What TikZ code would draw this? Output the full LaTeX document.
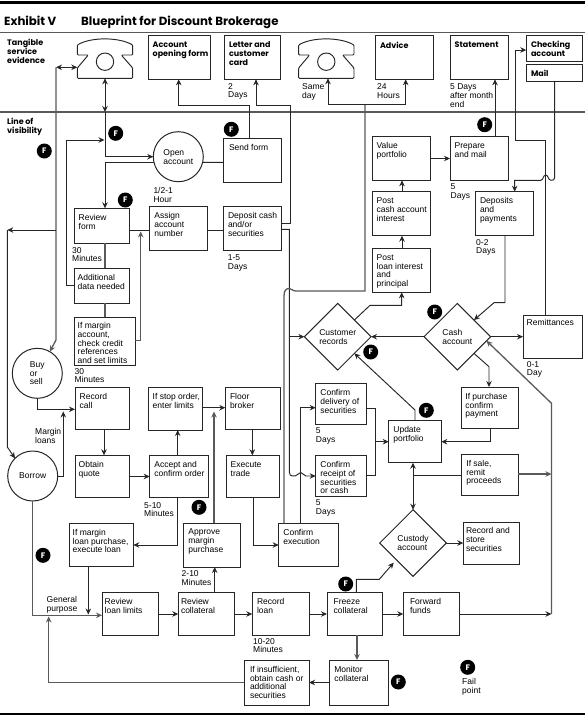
\documentclass[tikz,border=0pt]{standalone}
\usepackage{fontspec}
\setmainfont{Liberation Sans}
\newfontfamily\headfont{Poppins}
\usetikzlibrary{arrows.meta,shapes.geometric}

\begin{document}
\begin{tikzpicture}[x=1pt,y=-1pt,
    bodytext/.style={font=\fontsize{8.5}{8.75}\selectfont,inner sep=0pt,align=left},
    headtext/.style={font=\headfont\bfseries\fontsize{8}{8.9}\selectfont,inner sep=0pt,align=left},
    titletext/.style={font=\headfont\bfseries\fontsize{11.8}{13}\selectfont,inner sep=0pt,anchor=base west},
    stepbox/.style={draw=black!85,line width=1pt,inner sep=0pt,outer sep=0pt},
    wire/.style={line width=.95pt,black!85},
    gwire/.style={line width=1.3pt,black!65},
    flow/.style={wire,-{Stealth[length=6pt,width=5.5pt]}},
    gflow/.style={gwire,-{Stealth[length=6pt,width=5.5pt]}},
    bidir/.style={wire,{Stealth[length=6pt,width=5.5pt]}-{Stealth[length=6pt,width=5.5pt]}},
    failpt/.style={circle,fill=black,text=white,minimum size=15pt,inner sep=0pt,
                   font=\headfont\bfseries\fontsize{8}{8}\selectfont},
]
\useasboundingbox (0,0) rectangle (585,716);

% ---- rules and headings ----
\fill[black] (0,1) rectangle (585,3.5);
\fill[black] (0,712.5) rectangle (585,715);
\draw[gwire] (0,32.5) -- (585,32.5);
\draw[gwire] (0,112) -- (585,112);
\node[titletext] (exhibit) at (4,25) {Exhibit V};
\node[titletext] (blueprint) at (81,25) {Blueprint for Discount Brokerage};
\node[headtext,anchor=north west] (tangible) at (7,39) {Tangible\\service\\evidence};
\node[headtext,anchor=north west] (visline) at (7,118) {Line of\\visibility};

% ---- boxes: \tbox[text opts]{name}{x1}{y1}{x2}{y2}{text}
\newcommand{\tbox}[7][]{
  \node[stepbox,minimum width={#5-#3},minimum height={#6-#4}] (#2) at ({(#3+#5)/2},{(#4+#6)/2}) {};
  \node[bodytext,anchor=north west,#1] (#2txt) at ([xshift=4.5pt,yshift=-5.9pt]#2.north west) {#7};
}
% round and diamond nodes
\newcommand{\cnode}[4]{
  \node[stepbox,circle,minimum size=50pt,bodytext] (#1) at (#2,#3) {#4};
}
\newcommand{\dnode}[4]{
  \node[stepbox,diamond,minimum width=66.6pt,minimum height=66.6pt,bodytext] (#1) at (#2,#3) {#4};
}
% time labels and fail points
\newcommand{\tlabel}[4]{
  \node[bodytext,anchor=north west] (#1) at (#2,#3-6.1) {#4};
}
\newcommand{\fpoint}[3]{
  \node[failpt] (#1) at (#2,#3) {F};
}
% telephone, top left corner at (#2,#3)
\newcommand{\phone}[3]{
  \node[minimum width=55.4pt,minimum height=41.3pt,inner sep=0pt,outer sep=0pt] (#1) at (#2+27.7,#3+20.65) {};
  \draw[wire,rounded corners=1pt,shift={(#2,#3)}] (0,18) -- (0,8) .. controls (14,0) and (41,0) .. (55.4,8)
     -- (55.4,18) -- (44,18) -- (55.4,31) -- (55.4,41.3) -- (0,41.3) -- (0,31) -- (11,18) -- cycle;
  \draw[wire] (#2+27.7,#3+24.7) circle (8.7);
}

% Tangible evidence row
\phone{phoneA}{77.3}{37}
\phone{phoneB}{298.6}{37}
\tbox[headtext]{acctform}{148}{35.7}{210.3}{79.3}{Account\\opening form}
\tbox[headtext]{lettercard}{224.3}{35.7}{280.7}{79.3}{Letter and\\customer\\card}
\tbox[headtext]{advice}{375.3}{35.7}{433.7}{79.3}{Advice}
\tbox[headtext]{stmt}{450}{35.7}{508.3}{79.3}{Statement}
\tbox[headtext,yshift=1pt]{checking}{526.3}{35.7}{582}{61}{Checking\\account}
\tbox[headtext,yshift=1pt]{mailbox}{526.3}{64.7}{582}{81}{Mail}

% Account opening
\cnode{openacct}{178.3}{156.7}{Open\\account}
\tbox[xshift=1pt]{sendform}{223.3}{138.3}{281.7}{182.3}{Send form}
\tbox{reviewform}{74}{208.3}{129.3}{243.3}{Review\\form}
\tbox{assign}{149.7}{206.3}{207.7}{250.7}{Assign\\account\\number}
\tbox{depcash}{223.3}{206.3}{281.7}{250.7}{Deposit cash\\and/or\\securities}
\tbox[xshift=-1pt]{adddata}{74}{268.3}{129.3}{303.3}{Additional\\data needed}
\tbox[xshift=-1pt,yshift=1pt]{marginchk}{74}{317.3}{135}{365.7}{If margin\\account,\\check credit\\references\\and set limits}

% Trade
\cnode{buysell}{37.3}{373.3}{Buy\\or\\sell}
\cnode{borrow}{32.7}{476}{Borrow}
\tbox{recordcall}{75}{387}{129.3}{429.7}{Record\\call}
\tbox[xshift=-1pt]{obtain}{75}{455.3}{129.3}{497.7}{Obtain\\quote}
\tbox{stoporder}{148}{387}{202.3}{430}{If stop order,\\enter limits}
\tbox{floor}{225.3}{387}{280}{429.7}{Floor\\broker}
\tbox{accept}{149.7}{455.3}{208.7}{497.7}{Accept and\\confirm order}
\tbox{exectrade}{226}{455.3}{279}{497.7}{Execute\\trade}
\tbox[xshift=-1pt]{marginloan}{69}{523}{133.3}{566.7}{If margin\\loan purchase,\\execute loan}
\tbox{approve}{183.7}{523}{240.3}{567}{Approve\\margin\\purchase}
\tbox{confexec}{278.7}{523}{338}{566}{Confirm\\execution}

% Loans
\tbox[xshift=-2pt]{loanlimits}{102}{592.7}{158.7}{635.3}{Review\\loan limits}
\tbox[xshift=-2pt]{revcoll}{178.3}{592.7}{234}{635.3}{Review\\collateral}
\tbox{recloan}{252.3}{592.7}{309}{635.3}{Record\\loan}
\tbox[xshift=2pt]{freeze}{327}{592.7}{382.7}{635.3}{Freeze\\collateral}
\tbox[xshift=2pt]{forward}{403.3}{592.7}{459.7}{635.3}{Forward\\funds}
\tbox{monitor}{329.7}{660}{388.7}{705}{Monitor\\collateral}
\tbox[xshift=1pt]{insuff}{244.3}{660}{309}{705}{If insufficient,\\obtain cash or\\additional\\securities}

% Settlement
\dnode{custody}{413}{543}{Custody\\account}
\tbox[xshift=-2pt,yshift=1pt]{recstore}{463.3}{522.3}{519.7}{564.3}{Record and\\store\\securities}
\tbox{confdel}{315.7}{383.7}{366.7}{424.3}{Confirm\\delivery of\\securities}
\tbox{confrec}{315.7}{455.3}{366.7}{496.7}{Confirm\\receipt of\\securities\\or cash}
\tbox{update}{388.7}{420.7}{441.3}{462.7}{Update\\portfolio}
\tbox[xshift=-1pt]{ifpurch}{461.7}{387}{518}{428.3}{If purchase\\confirm\\payment}
\tbox{ifsale}{461.7}{454}{518}{495.7}{If sale,\\remit\\proceeds}
\tbox[xshift=-1pt,yshift=2pt]{remit}{523}{315}{582}{358}{Remittances}
\dnode{custrec}{337.7}{336.7}{Customer\\records}
\dnode{cashacct}{457.3}{336.7}{Cash\\account}
\tbox{postloan}{372}{248.3}{430}{292.3}{Post\\loan interest\\and\\principal}
\tbox{postcash}{372}{191.7}{430}{235.7}{Post\\cash account\\interest}
\tbox{value}{372}{136.7}{430}{180.3}{Value\\portfolio}
\tbox{prepare}{450}{136.7}{508.3}{180.3}{Prepare\\and mail}
\tbox{deposits}{475.3}{191.7}{533.7}{235.7}{Deposits\\and\\payments}

% ---- time labels
\tlabel{tdays}{228}{89}{2\\Days}
\tlabel{thour}{153.3}{193}{1/2-1\\Hour}
\tlabel{tmina}{72}{253}{30\\Minutes}
\tlabel{tdep}{227.7}{261}{1-5\\Days}
\tlabel{tminb}{74.5}{374}{30\\Minutes}
\tlabel{tmargin}{35}{434.7}{Margin\\loans}
\tlabel{tacc}{144}{508}{5-10\\Minutes}
\tlabel{tappr}{181.5}{576.3}{2-10\\Minutes}
\tlabel{tgen}{46.5}{602}{General\\purpose}
\tlabel{trec}{253}{644}{10-20\\Minutes}
\tlabel{tsame}{302}{89.7}{Same\\day}
\tlabel{thours}{377}{89.7}{24\\Hours}
\tlabel{tmonth}{450}{89.7}{5 Days\\after month\\end}
\tlabel{tprep}{450.5}{190}{5\\Days}
\tlabel{tdepo}{476}{245}{0-2\\Days}
\tlabel{tremit}{526.7}{367}{0-1\\Day}
\tlabel{tdel}{315.7}{434}{5\\Days}
\tlabel{tconf}{315.7}{506}{5\\Days}
\tlabel{tfail}{462}{684}{Fail\\point}

% ---- fail points
\fpoint{fa}{115.7}{133.3}
\fpoint{fb}{44.3}{151}
\fpoint{fc}{231.3}{129.3}
\fpoint{fd}{125.3}{200}
\fpoint{fe}{484.7}{124.7}
\fpoint{ff}{434.7}{312}
\fpoint{fg}{370.7}{352}
\fpoint{fh}{426.3}{410.3}
\fpoint{fi}{199}{507.3}
\fpoint{fj}{43}{555.3}
\fpoint{fk}{345.7}{584}
\fpoint{fl}{398.3}{682}
\fpoint{fm}{467.7}{667.3}

% ---- junctions and free ends
\coordinate (jvis) at (105,112);
\coordinate (jphone) at (56,67.3);
\coordinate (jleft) at (56,230);
\coordinate (jfar) at (7.3,230);
\coordinate (jrev) at (104.5,140);
\coordinate (jassign) at (140.7,231.5);
\coordinate (jcust) at (289.3,336.7);
\coordinate (jtop) at (365,104);
\coordinate (jconf) at (375.7,441.7);
\coordinate (jsale) at (413,475.7);
\coordinate (jright) at (551.5,474);
\coordinate (jfwd) at (551.5,614);
\coordinate (jrec) at (63.3,411.5);
\coordinate (jfloor) at (214,411.5);
\coordinate (jgen) at (88.3,614.5);
\coordinate (jins) at (48.7,616.5);

% ---- connectors, phone and opening
\draw[bidir] (phoneA.south) -- (jvis);
\draw[flow] (jvis) |- (openacct.west);
\draw[bidir] (jphone) -- (phoneA.west |- jphone);
\draw[gflow] (jphone) -- (56,340) -- (buysell.60);
\draw[flow] (jleft) -- (jfar);
\draw[flow] (jfar) -- (7.3,447) -- (borrow.135);
\draw[flow] (adddata.west) -| (66.7,140) -- (jrev);
\draw[flow] (openacct.193) -| (reviewform.north -| 105,0);
\draw[wire] (sendform.west |- 0,162.3) -- (openacct.347);
\draw[flow] (sendform.north -| 249.3,0) |- (178.7,105) -- (acctform.south -| 178.7,0);
\draw[flow] (depcash.east |- 0,223.3) -| (290.7,105) -| (lettercard.south -| 256,0);
\draw[flow] (depcash.east |- 0,229.3) -- (289.3,229.3) -- (289.3,472)
   .. controls (289.3,475) and (290,476) .. (295,476) .. controls (298,476) and (298,472.5) .. (300.7,472.5)
   .. controls (303.5,472.5) and (303,476) .. (306,476) -- (confrec.west);
\draw[flow] (jcust) -- (custrec.west);
\draw[gwire] (reviewform.south -| 105,0) -- (adddata.north -| 105,0);
\draw[gwire] (adddata.south -| 105,0) -- (marginchk.north -| 105,0);
\draw[wire] (reviewform.east |- 0,230) -- (assign.west |- 0,230);
\draw[wire] (assign.east |- 0,230) -- (depcash.west |- 0,230);
\draw[gflow] (marginchk.east |- 0,340.3) -| (jassign);

% ---- connectors, trade
\draw[flow] (buysell.south) |- (recordcall.west |- 0,409.3);
\draw[flow] (borrow.east) -| (jrec);
\draw[flow] (recordcall.south -| 104,0) -- (obtain.north -| 104,0);
\draw[flow] (obtain.east) -- (accept.west);
\draw[flow] (accept.north -| 177.7,0) -- (stoporder.south -| 177.7,0);
\draw[flow] (stoporder.east |- 0,407.7) -- (floor.west |- 0,407.7);
\draw[gflow] (approve.north -| 214,0) -- (jfloor);
\draw[flow] (accept.south -| 177.7,0) |- (marginloan.east |- 0,545);
\draw[flow] (marginloan.south -| 88.3,0) -- (jgen);
\draw[gflow] (borrow.south) |- (loanlimits.west |- 0,615.3);
\draw[gflow] (insuff.west) -| (jins);
\draw[flow] (floor.south -| 252.3,0) -- (exectrade.north -| 252.3,0);
\draw[flow] (exectrade.south -| 253.3,0) |- (confexec.west |- 0,545);
\draw[flow] (revcoll.north -| 214.7,0) -- (approve.south -| 214.7,0);
\draw[flow] (loanlimits.east) -- (revcoll.west);
\draw[flow] (revcoll.east) -- (recloan.west);
\draw[flow] (recloan.east) -- (freeze.west);
\draw[flow] (freeze.east) -- (forward.west);
\draw[flow,shorten >=4pt] (freeze.north -| 356.3,0) |- (379.3,579.3) -- (custody.south west);
\draw[gflow] (freeze.south -| 357,0) -- (monitor.north -| 357,0);
\draw[flow] (monitor.west) -- (insuff.east);
\draw[flow] (custody.east) -- (recstore.west |- custody.east);

% ---- connectors, confirmations
\draw[gwire] (confexec.north -| 284,0) -- (284,296) .. controls (284,290.5) and (286,288.5) .. (289.3,288.5)
   .. controls (292,288.5) and (292,291) .. (296,291) -- (365,291) -- (jtop);
\draw[flow] (jtop) -| (phoneB.south -| 328,0);
\draw[flow] (jtop) -| (advice.south -| 405.7,0);
\draw[flow] (confexec.north -| 300.7,0) |- (confdel.west |- 0,407.7);
\draw[wire] (confdel.east |- 0,408) -| (375.7,475.3) -- (confrec.east |- 0,475.3);
\draw[flow] (jconf) -- (update.west |- jconf);
\draw[flow] (update.north -| 415,0) -- (415,410) -- (custrec.south east);
\draw[flow] (custrec.north east) -- (370,305.3) -| (postloan.south -| 401.7,0);
\draw[bidir] (update.south -| 413,0) -- (custody.north);
\draw[wire] (ifsale.west |- 0,475.7) -- (jsale);

% ---- connectors, cash
\draw[flow] (cashacct.west) -- (custrec.east);
\draw[flow] (cashacct.east) -- (remit.west |- cashacct.east);
\draw[flow] (deposits.south -| 505,0) -- (505,302.7) -- (494,302.7) -- (cashacct.north east);
\draw[flow] (cashacct.south east) -- (489,366.7) -- (ifpurch.north -| 489,0);
\draw[flow] (ifpurch.south -| 490,0) |- (update.east |- 0,441.7);
\draw[gflow] (ifsale.east |- 0,474) -- (jright);
\draw[flow] (forward.east) -- (jfwd);
\draw[gflow] (jfwd) -- (551.5,403.3) -- (cashacct.-8);
\draw[flow] (remit.north -| 545.7,0) |- (515.7,140.7) |- (checking.west |- 0,50);
\draw[flow] (mailbox.south -| 554.7,0) -- (554.7,177.5) .. controls (554.7,180) and (553,180.3) .. (551,180.3)
   .. controls (548,180.3) and (548.5,175) .. (545.7,175) .. controls (543,175) and (543.5,180.3) .. (540.7,180.3)
   -- (514.7,180.3) -- (deposits.north -| 514.7,0);
\draw[flow] (prepare.north -| 495,0) -- (stmt.south -| 495,0);
\draw[flow] (value.east) -- (prepare.west);
\draw[flow] (postcash.north -| 402,0) -- (value.south -| 402,0);
\draw[flow] (postloan.north -| 402,0) -- (postcash.south -| 402,0);

\end{tikzpicture}
\end{document}
